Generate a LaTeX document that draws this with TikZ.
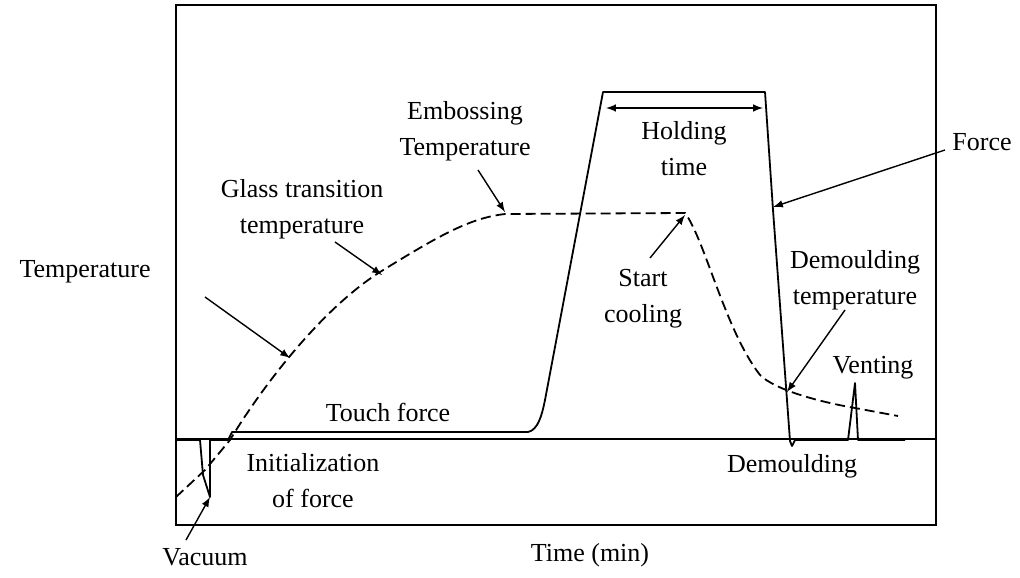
\documentclass[tikz,border=0pt]{standalone}
\usepackage{fontspec}
\setmainfont{Liberation Serif}
\begin{document}
\begin{tikzpicture}[x=0.5pt,y=-0.5pt,
  lbl/.style={font=\fontsize{13}{16}\selectfont,align=center,inner sep=0pt},
  ln/.style={line width=0.9pt,line join=round},
  dsh/.style={line width=0.9pt,dash pattern=on 5pt off 2.5pt},
  arr/.style={line width=0.7pt,-latex}]
\useasboundingbox (0,0) rectangle (1020,577);
\draw[line width=0.6pt] (176,5) rectangle (936,525);
\draw[line width=0.6pt] (176,439) -- (936,439);
% force
\draw[ln] (176,440)--(200,440)--(203,475)--(210,497)--(210,440)--(228,440)--(232,432)--(528,432)
  .. controls (538,430) and (542,415) .. (545,400) -- (603,92) -- (765,92) -- (773,210) -- (790,441)
  -- (792,446) -- (795,440) -- (848,440) -- (855,383) -- (858,440) -- (905,440);
% temperature
\draw[dsh] (176,497) -- (205,470) -- (230,440) .. controls (260,390) and (320,310) .. (380,272)
  .. controls (440,235) and (470,218) .. (505,214) -- (685,213)
  .. controls (705,240) and (725,330) .. (760,375) .. controls (775,390) and (820,402) .. (855,408) -- (898,416);
\node[lbl] (tmp) at (85,272) {Temperature};
\coordinate (tmpE) at (290,358);
\draw[arr] (205,297) -- (tmpE);
\node[lbl] (gt) at (302,209) {Glass transition\\[2pt]temperature};
\coordinate (gtE) at (382,275);
\draw[arr] (335,242) -- (gtE);
\node[lbl] (et) at (465,131) {Embossing\\[2pt]Temperature};
\coordinate (etE) at (505,212);
\draw[arr] (478,170) -- (etE);
\coordinate (h1) at (606,108); \coordinate (h2) at (763,108);
\draw[line width=0.7pt,latex-latex] (h1) -- (h2);
\node[lbl] (ht) at (684,149) {Holding\\[2pt]time};
\node[lbl] (fc) at (982,142) {Force};
\coordinate (fcE) at (773,207);
\draw[arr] (945,150) -- (fcE);
\node[lbl] (sc) at (643,299) {Start\\[2pt]cooling};
\coordinate (scE) at (685,215);
\draw[arr] (650,258) -- (scE);
\node[lbl] (dt) at (855,280) {Demoulding\\[2pt]temperature};
\coordinate (dtE) at (787,392);
\draw[arr] (845,310) -- (dtE);
\node[lbl] (vt) at (873,368) {Venting};
\node[lbl] (dm) at (792,466) {Demoulding};
\node[lbl] (tf) at (388,412) {Touch force};
\node[lbl] (init) at (313,481) {Initialization\\[2pt]of force};
\node[lbl] (vac) at (205,557) {Vacuum};
\coordinate (vacE) at (210,497);
\draw[arr] (186,540) -- (vacE);
\node[lbl] (time) at (590,555) {Time (min)};
\end{tikzpicture}
\end{document}
